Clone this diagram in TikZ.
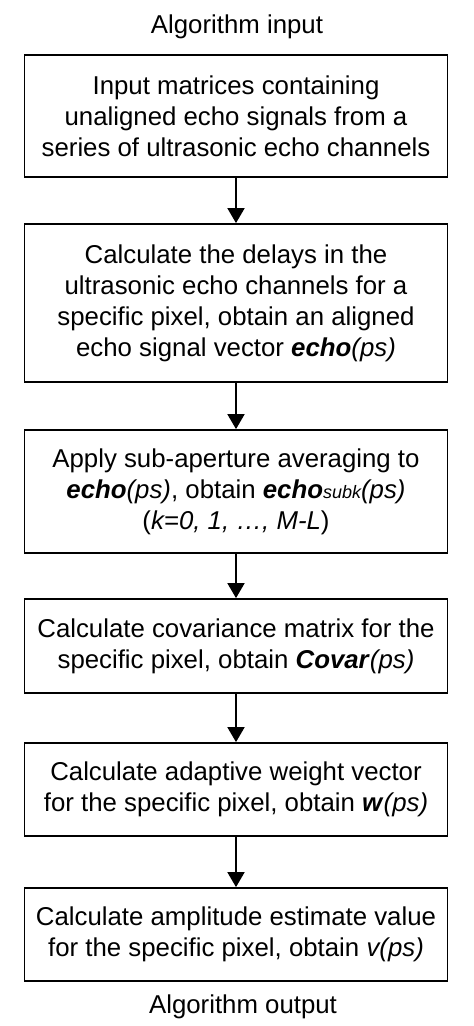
\documentclass[tikz,border=0pt]{standalone}
\usepackage{fontspec}
\setmainfont{Liberation Sans}
\usetikzlibrary{arrows.meta}
\tikzstyle{stepbox}=[draw, line width=1.8pt, minimum width=423pt, inner sep=0pt, align=center, font=\fontsize{25.8}{31}\selectfont]
\tikzstyle{endtext}=[font=\fontsize{25.8}{31}\selectfont]
\tikzstyle{flow}=[line width=1.8pt, -{Triangle[length=15pt,width=17pt]}]
\newcommand{\bvec}[1]{\textbf{\textit{#1}}}

\begin{document}
\begin{tikzpicture}[x=1pt, y=-1pt]
		   \useasboundingbox (0, 0) rectangle (474, 1026);
		   \begin{scope}
			   \node (in) at (237, 27)[endtext] {Algorithm input};
			   \node (input) at (236, 116)[stepbox, minimum height=122pt] {Input matrices containing\\unaligned echo signals from a\\series of ultrasonic echo channels};
			   \node (delay) at (236, 303)[stepbox, minimum height=158pt] {Calculate the delays in the\\ultrasonic echo channels for a\\specific pixel, obtain an aligned\\echo signal vector \bvec{echo}\textit{(ps)}};
			   \node (subap) at (236, 491.5)[stepbox, minimum height=123pt] {Apply sub-aperture averaging to\\\bvec{echo}\textit{(ps)}, obtain \bvec{echo}\textit{{\fontsize{18}{20}\selectfont subk}(ps)}\\(\textit{k=0, 1, \ldots, M-L})};
			   \node (covar) at (236, 646)[stepbox, minimum height=94pt] {Calculate covariance matrix for the\\specific pixel, obtain \bvec{Covar}\textit{(ps)}};
			   \node (weight) at (236, 789.5)[stepbox, minimum height=93pt] {Calculate adaptive weight vector\\for the specific pixel, obtain \bvec{w}\textit{(ps)}};
			   \node (ampl) at (236, 934.5)[stepbox, minimum height=93pt] {Calculate amplitude estimate value\\for the specific pixel, obtain \textit{v(ps)}};
			   \node (out) at (243, 1007)[endtext] {Algorithm output};
		   \end{scope}
		   \begin{scope}
			   \path [flow] (input) edge (delay);
			   \path [flow] (delay) edge (subap);
			   \path [flow] (subap) edge (covar);
			   \path [flow] (covar) edge (weight);
			   \path [flow] (weight) edge (ampl);
		   \end{scope}
	   \end{tikzpicture}
\end{document}
